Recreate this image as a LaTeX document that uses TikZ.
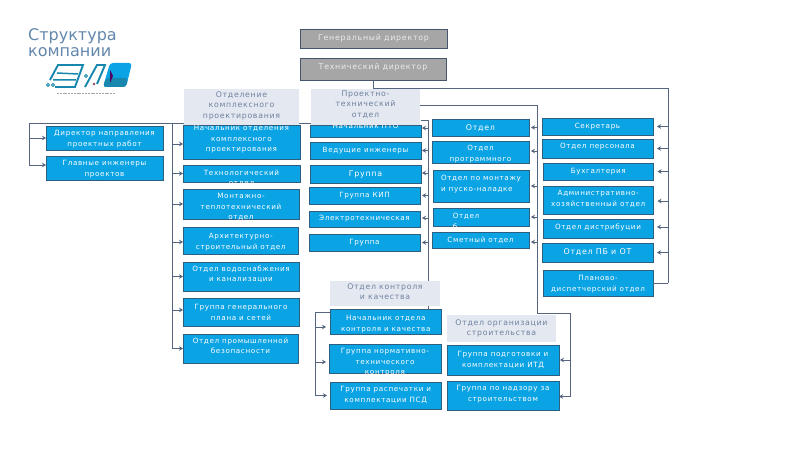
\documentclass[tikz,border=0pt]{standalone}
\usepackage{fontspec}
\setmainfont[LetterSpace=9]{DejaVu Sans}
\newfontfamily\plainfont{DejaVu Sans}
\usetikzlibrary{arrows.meta,calc}
\definecolor{cellblue}{HTML}{0AA3E4}
\definecolor{cellline}{HTML}{2F5F80}
\definecolor{connline}{HTML}{56657F}
\definecolor{headfill}{HTML}{E4E8F0}
\definecolor{headtext}{HTML}{6F82A0}
\definecolor{greyfill}{HTML}{A6A6A6}
\definecolor{greyline}{HTML}{44546A}
\definecolor{titleblue}{HTML}{6487AC}
\definecolor{logoteal}{HTML}{1787AE}
\tikzset{
  cellbox/.style={rectangle,draw=cellline,fill=cellblue,line width=.8pt,inner sep=0pt,outer sep=0pt},
  greybox/.style={rectangle,draw=greyline,fill=greyfill,line width=.9pt,inner sep=0pt,outer sep=0pt},
  headbox/.style={rectangle,fill=headfill,inner sep=0pt,outer sep=0pt},
  celltext/.style={text=white,align=center,inner sep=0pt,font=\fontsize{7.2}{10.4}\selectfont},
  bigtext/.style={text=white,align=center,inner sep=0pt,font=\fontsize{7.9}{11}\selectfont},
  greytext/.style={text=white!92!black,align=center,inner sep=0pt,font=\fontsize{7.9}{10}\selectfont},
  headtextstyle/.style={text=headtext,align=center,inner sep=0pt,font=\fontsize{7.8}{10.6}\selectfont},
  conn/.style={draw=connline,line width=.9pt},
  arrowconn/.style={conn,-{Stealth[length=4pt,width=4.6pt]}},
}
% style, name, x1, y1, x2, y2, centre of first text line, text style, text
\newcommand\cbox[9]{%
  \pgfmathsetmacro\bw{#5-#3}\pgfmathsetmacro\bh{#6-#4}%
  \pgfmathsetmacro\bx{(#3+#5)/2}\pgfmathsetmacro\by{(#4+#6)/2}%
  \pgfmathsetmacro\ty{#7-3.6}%
  \node[#1,minimum width=\bw pt,minimum height=\bh pt] (#2) at (\bx,\by) {};
  \node[#8,anchor=north] (#2-t) at (\bx,\ty) {#9};
}
% spine, box anchor, dx, dy
\newcommand\lnk[4]{\draw[arrowconn] ($(#1 |- #2)+(0,#4)$) -- ($(#2)+(#3,#4)$);}
\begin{document}
\begin{tikzpicture}[x=1pt,y=-1pt]
\useasboundingbox (0,0) rectangle (800,449);
\fill[white] (0,0) rectangle (800,449);

% title
\node[anchor=north west,inner sep=0pt,align=left,text=titleblue,font=\plainfont\fontsize{16}{16}\selectfont] (title) at (28,28) {Структура\\компании};

% logo
\fill[cellblue,rounded corners=3pt] (110,63) -- (132,63) -- (126,87) -- (103,87) -- cycle;
\fill[logoteal] (103,87) [rounded corners=3pt] -- (126,87) -- (128,78) -- (106,78) -- cycle;
\fill[red!45!blue!70!black] (110,70) -- (113,76) -- (110,83) -- cycle;
\draw[logoteal,line width=1.9pt] (50,80) -- (58,65) -- (83,65) -- (75,87) -- (55,87);
\draw[logoteal,line width=1.5pt] (57,73) -- (78,74) (53,80) -- (76,80);
\draw[logoteal,line width=1.9pt] (85,87) -- (97,65) -- (105,65) -- (97,84);
\draw[logoteal,line width=.9pt,fill=white] (48,85) circle (1.5) (53,85) circle (1.5) (86,76) circle (1.5);
\fill[logoteal!50!red] (94,84) circle (1.3);
\draw[gray!70,line width=.7pt,dash pattern=on 2pt off .8pt] (57,93) -- (115,93);

% nodes
\cbox{greybox}{gen}{300}{29}{447}{48}{38}{greytext}{Генеральный директор}
\cbox{greybox}{tech}{300}{58}{446}{80}{67}{greytext}{Технический директор}

% connectors are placed underneath the boxes
\coordinate (hubL) at (373,123);
\coordinate (hubM) at (373,105);
\coordinate (hubR) at (373,88.5);
\coordinate (busA) at (29,123);
\coordinate (busAend) at (29,165);
\coordinate (busB) at (172,123);
\coordinate (busBend) at (172,348);
\coordinate (busC) at (428,120);
\coordinate (busCend) at (428,309);
\coordinate (busD) at (537,105);
\coordinate (busDend) at (537,313);
\coordinate (busE) at (570,313);
\coordinate (busEend) at (570,397);
\coordinate (busF) at (668,88.5);
\coordinate (busFend) at (668,283);
\coordinate (busG) at (315,312);
\coordinate (busGend) at (315,395);

\draw[conn] (tech.south) -- (hubL);
\draw[conn] (busA) -- (hubL);
\draw[conn] (busA) -- (busAend);
\draw[conn] (busB) -- (busBend);
\draw[conn] (hubM) -- (busD) -- (busDend) -- (busE) -- (busEend);
\draw[conn] (hubR) -- (busF) -- (busFend);
\draw[conn] (421,120) -- (busC) -- (busCend);
\draw[conn] (busG) -- (busGend);
\draw[conn] (busG) -- (330,312);

% left column
\cbox{cellbox}{dirn}{46}{126}{163}{150}{134}{celltext}{Директор направления\\проектных работ}
\cbox{cellbox}{glav}{46}{156}{163}{180}{164}{celltext}{Главные инженеры\\проектов}
% complex design
\cbox{cellbox}{nachk}{183}{125}{300}{159}{129}{celltext}{Начальник отделения\\комплексного\\проектирования}
\cbox{cellbox}{tehn}{183}{165}{300}{182}{173}{celltext}{Технологический\\отдел}
\cbox{cellbox}{mont}{183}{189}{299}{219}{197}{celltext}{Монтажно-\\теплотехнический\\отдел}
\cbox{cellbox}{arch}{183}{227}{298.5}{254}{237}{celltext}{Архитектурно-\\строительный отдел}
\cbox{cellbox}{vodo}{183}{262}{299}{291}{269}{celltext}{Отдел водоснабжения\\и канализации}
\cbox{cellbox}{genp}{183}{298}{299}{326}{308}{celltext}{Группа генерального\\плана и сетей}
\cbox{cellbox}{prom}{183}{334}{298}{363}{341}{celltext}{Отдел промышленной\\безопасности}
% PTO
\cbox{cellbox}{pto}{310}{125}{421}{137}{127}{celltext}{Начальник ПТО}
\cbox{cellbox}{ved}{310}{142}{421}{159}{151}{celltext}{Ведущие инженеры}
\cbox{cellbox}{gr1}{310}{165}{421}{183}{174}{bigtext}{Группа}
\cbox{cellbox}{kip}{309}{187}{420}{204}{196}{celltext}{Группа КИП}
\cbox{cellbox}{elek}{309}{211}{420}{227}{219}{celltext}{Электротехническая}
\cbox{cellbox}{gr2}{309}{234}{420}{251}{243}{celltext}{Группа}
% middle
\cbox{cellbox}{otd}{432}{119}{529}{136}{128}{bigtext}{Отдел}
\cbox{cellbox}{prog}{432}{141}{529}{163}{149}{celltext}{Отдел\\программного}
\cbox{cellbox}{monp}{433}{170}{529}{202}{179}{celltext,align=left}{Отдел по монтажу\\и пуско-наладке}
\cbox{cellbox}{otdb}{433}{208}{529}{226}{217}{celltext,align=left,xshift=-15pt}{Отдел\\б}
\cbox{cellbox}{smet}{432}{232}{529}{248}{240}{celltext}{Сметный отдел}
% right
\cbox{cellbox}{sek}{542}{118}{653}{135}{127}{celltext}{Секретарь}
\cbox{cellbox}{pers}{542}{139}{653}{158}{147}{celltext}{Отдел персонала}
\cbox{cellbox}{buh}{543}{163}{653.5}{180}{172}{celltext}{Бухгалтерия}
\cbox{cellbox}{adm}{543}{186}{653.5}{214}{194}{celltext}{Административно-\\хозяйственный отдел}
\cbox{cellbox}{dist}{543}{219}{653}{238}{227}{celltext}{Отдел дистрибуции}
\cbox{cellbox}{pbot}{542}{243}{653}{262}{252}{bigtext}{Отдел ПБ и ОТ}
\cbox{cellbox}{plan}{543}{270}{653}{296}{279}{celltext}{Планово-\\диспетчерский отдел}
% control
\cbox{cellbox}{nachq}{330}{309}{441.5}{334}{319}{celltext}{Начальник отдела\\контроля и качества}
\cbox{cellbox}{norm}{329}{344}{441}{373}{352}{celltext}{Группа нормативно-\\технического\\контроля}
\cbox{cellbox}{rasp}{330}{382}{441.5}{409}{390}{celltext}{Группа распечатки и\\комплектации ПСД}
% construction
\cbox{cellbox}{podg}{447}{345}{559}{375}{355}{celltext}{Группа подготовки и\\комплектации ИТД}
\cbox{cellbox}{nadz}{447}{381}{559}{410}{389}{celltext}{Группа по надзору за\\строительством}

% arrows
\lnk{busA}{dirn.west}{0}{0}
\lnk{busA}{glav.west}{0}{-3}
\lnk{busB}{nachk.west}{0}{2}
\lnk{busB}{tehn.west}{0}{0}
\lnk{busB}{mont.west}{0}{0}
\lnk{busB}{arch.west}{0}{1.5}
\lnk{busB}{vodo.west}{0}{0}
\lnk{busB}{genp.west}{0}{-2}
\lnk{busB}{prom.west}{0}{0}
\lnk{busC}{pto.east}{1}{-3}
\lnk{busC}{ved.east}{1}{0}
\lnk{busC}{gr1.east}{1}{-1}
\lnk{busC}{kip.east}{2}{0}
\lnk{busC}{elek.east}{2}{-1}
\lnk{busC}{gr2.east}{2}{0}
\lnk{busD}{otd.east}{2}{0}
\lnk{busD}{prog.east}{2}{-1}
\lnk{busD}{monp.east}{2}{0}
\lnk{busD}{otdb.east}{2}{0}
\lnk{busD}{smet.east}{2}{2}
\lnk{busF}{sek.east}{4}{0}
\lnk{busF}{pers.east}{4}{0}
\lnk{busF}{buh.east}{4}{0}
\lnk{busF}{adm.east}{4}{1}
\lnk{busF}{dist.east}{4}{-1.5}
\lnk{busF}{pbot.east}{4}{0}
\draw[conn] (busFend) -- (plan.east);
\lnk{busG}{nachq.west}{-4}{5.5}
\lnk{busG}{norm.west}{-3}{3.5}
\lnk{busG}{rasp.west}{-3}{0}
\lnk{busE}{podg.east}{1}{0}
\lnk{busE}{nadz.east}{0}{1}

% headings on top
\cbox{headbox}{hk}{184}{89}{299}{125}{95}{headtextstyle}{Отделение\\комплексного\\проектирования}
\cbox{headbox}{hp}{311}{89}{420}{125}{94}{headtextstyle}{Проектно-\\технический\\отдел}
\cbox{headbox}{hq}{330}{281}{440}{306}{287}{headtextstyle}{Отдел контроля\\и качества}
\cbox{headbox}{ho}{447}{315}{556}{342}{323}{headtextstyle}{Отдел организации\\строительства}
\end{tikzpicture}
\end{document}
